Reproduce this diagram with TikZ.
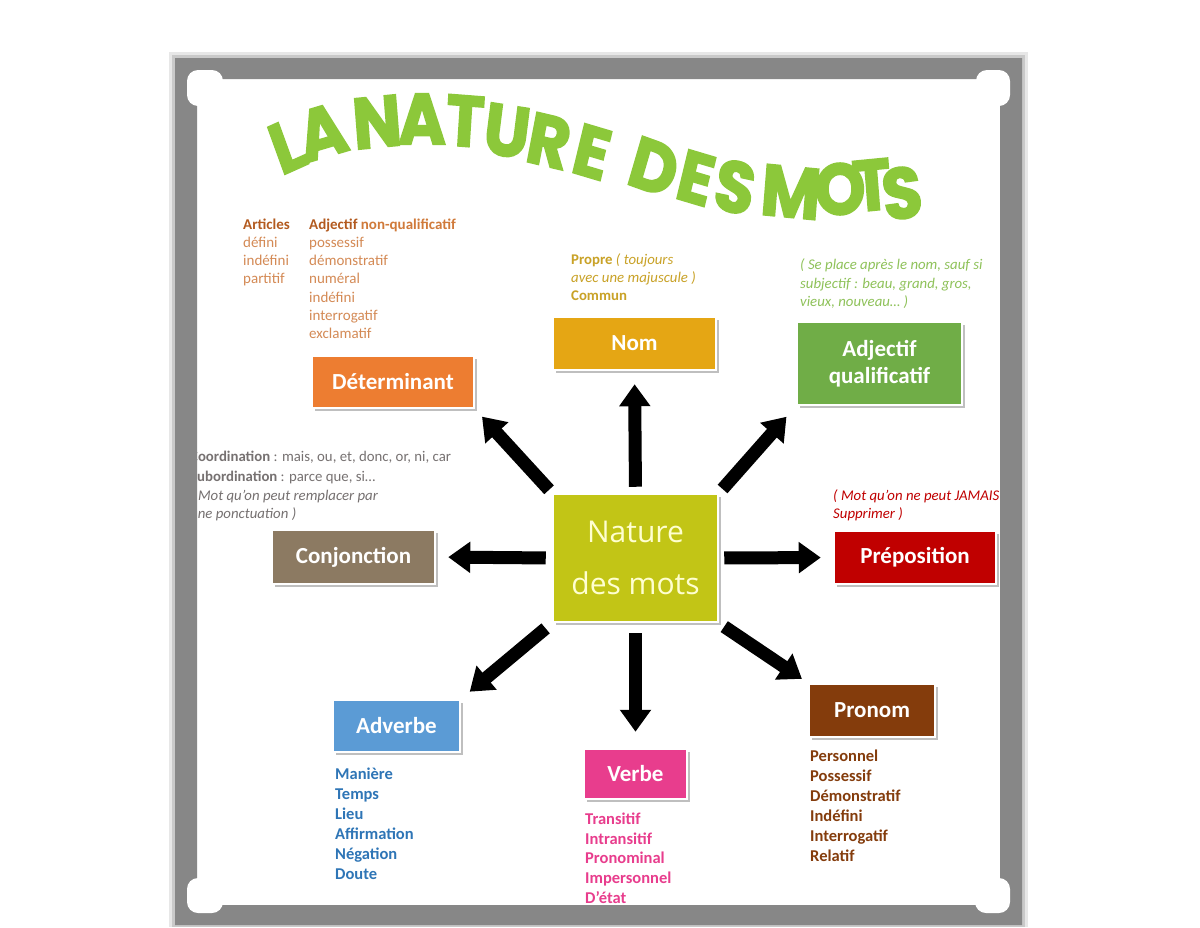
\documentclass[tikz,border=0pt]{standalone}
\usepackage{fontspec}
\setmainfont{Carlito}
\newfontfamily\titlefont{Poppins}[BoldFeatures={FakeBold=2.5}]
\newfontfamily\handfont{Open Sans}
\usetikzlibrary{arrows.meta,shadows}

\definecolor{nomcol}{HTML}{E5A614}
\definecolor{detcol}{HTML}{ED7D31}
\definecolor{adjcol}{HTML}{70AD47}
\definecolor{conjcol}{HTML}{8C7A62}
\definecolor{prepcol}{HTML}{C00000}
\definecolor{centcol}{HTML}{C2C516}
\definecolor{advcol}{HTML}{5B9BD5}
\definecolor{verbcol}{HTML}{E83D8D}
\definecolor{proncol}{HTML}{843C0C}
\definecolor{cream}{HTML}{FFFFD0}
\definecolor{titlegreen}{HTML}{8CC83A}
\definecolor{dethead}{HTML}{B35A1F}
\definecolor{detsub}{HTML}{D07A3A}
\definecolor{detitem}{HTML}{D48A55}
\definecolor{nomtext}{HTML}{C9A227}
\definecolor{adjtext}{HTML}{8FC25A}
\definecolor{conjtext}{HTML}{767171}
\definecolor{advtext}{HTML}{2E75B6}
\definecolor{frame}{HTML}{878787}

\tikzset{
  wordbox/.style={draw=white, line width=2.5pt, text=white, inner sep=0pt, align=center,
    font=\fontsize{23}{27}\selectfont\bfseries,
    drop shadow={shadow xshift=2.5pt, shadow yshift=-2.5pt, fill=black, opacity=0.25}},
  bigarrow/.style={line width=13pt, -{Triangle[width=30pt,length=22pt]}},
  smalltext/.style={anchor=base west, inner sep=0pt, font=\fontsize{14.8}{18}\selectfont},
  dettext/.style={smalltext, font=\fontsize{15}{18}\selectfont},
  listtext/.style={anchor=base west, inner sep=0pt, font=\fontsize{16.5}{20}\selectfont\bfseries},
  letter/.style={font=\titlefont\fontsize{72}{72}\selectfont\bfseries, inner sep=0pt, xscale=0.9}
}

\begin{document}
\begin{tikzpicture}[x=1pt,y=-1pt]
  \useasboundingbox (0,0) rectangle (1200,927);
  % frame background
  \fill[frame!20] (169,52) rectangle (1028,927);
  \fill[frame!45] (172,55) rectangle (1025,927);
  \fill[white] (197,79) rectangle (1000,905);

  % title
  \foreach \ch/\x/\y/\r [count=\i] in {L/287/146/22, A/322/132/15, N/377/122/5, A/422/119/0,
      T/465/121/-4, U/507/131/-8, R/549/141/-12, E/592/152/-15, D/654/167/-18,
      E/696/178/-15, S/735/187/-11, M/791/192/-5, O/840/189/0, T/872/185/5, S/902/193/7}
    \node[letter, text=titlegreen, rotate=\r] (t\i) at (\x,\y) {\ch};

  % boxes
  \node[wordbox, fill=centcol, minimum width=165pt, minimum height=128pt, text=cream,
    font=\handfont\fontsize{30}{52}\selectfont] (nature) at (635.5,558) {Nature\\des mots};
  \node[wordbox, fill=nomcol, minimum width=163pt, minimum height=53pt] (nom) at (634.5,343.5) {Nom};
  \node[wordbox, fill=detcol, minimum width=162pt, minimum height=52pt] (det) at (393,382) {Déterminant};
  \node[wordbox, fill=adjcol, minimum width=165pt, minimum height=83pt] (adj) at (879.5,363.5) {Adjectif\\qualificatif};
  \node[wordbox, fill=conjcol, minimum width=163pt, minimum height=54pt] (conj) at (353.5,557) {Conjonction};
  \node[wordbox, fill=prepcol, minimum width=162pt, minimum height=53pt] (prep) at (915,557.5) {Préposition};
  \node[wordbox, fill=advcol, minimum width=127pt, minimum height=52pt] (adv) at (396.5,726) {Adverbe};
  \node[wordbox, fill=verbcol, minimum width=103pt, minimum height=50pt] (verbe) at (635.5,774) {Verbe};
  \node[wordbox, fill=proncol, minimum width=126pt, minimum height=53pt] (pron) at (872,710.5) {Pronom};

  % arrows
  \draw[bigarrow, shorten <=6pt, shorten >=13pt] (nature.north) -- (nom.south);
  \draw[bigarrow, shorten <=4pt, shorten >=10pt] (nature.north west) -- (det.south east);
  \draw[bigarrow, shorten <=5pt, shorten >=14pt] (nature.north east) -- (adj.south west);
  \draw[bigarrow, shorten <=6pt, shorten >=12pt] (nature.west) -- (conj.east);
  \draw[bigarrow, shorten <=5pt, shorten >=12pt] (nature.east) -- (prep.west);
  \draw[bigarrow, shorten <=8pt, shorten >=11pt] (nature.south west) -- (adv.north east);
  \draw[bigarrow, shorten <=10pt, shorten >=16pt] (nature.south) -- (verbe.north);
  \draw[bigarrow, shorten <=6pt, shorten >=7pt] (nature.south east) -- (pron.north west);

  % determinant
  \node[dettext, text=dethead] (articles) at (243,229) {\bfseries Articles};
  \foreach \w [count=\i] in {défini, indéfini, partitif}
    \node[dettext, text=detitem] (art\i) at (243,229+18.3*\i) {\w};
  \node[dettext, text=dethead] (adjnq) at (309,229) {\bfseries Adjectif \textcolor{detsub}{non-qualificatif}};
  \foreach \w [count=\i] in {possessif, démonstratif, numéral, indéfini, interrogatif, exclamatif}
    \node[dettext, text=detitem] (nq\i) at (309,229+18.3*\i) {\w};

  % nom
  \node[smalltext, text=nomtext] (propre) at (571,264.5) {\textbf{Propre} \textit{( toujours}};
  \node[smalltext, text=nomtext] (majuscule) at (571,282.5) {\itshape avec une majuscule )};
  \node[smalltext, text=nomtext] (commun) at (571,300.5) {\bfseries Commun};

  % adjectif
  \node[smalltext, text=adjtext] (adj1) at (800,269.5) {\itshape ( Se place après le nom, sauf si};
  \node[smalltext, text=adjtext] (adj2) at (800,288.5) {\itshape subjectif : beau, grand, gros,};
  \node[smalltext, text=adjtext] (adj3) at (800,306.5) {\itshape vieux, nouveau… )};

  % conjonction
  \node[smalltext, text=conjtext] (coord) at (190,461) {\textbf{Coordination} : mais, ou, et, donc, or, ni, car};
  \node[smalltext, text=conjtext] (subord) at (190,481) {\textbf{Subordination} : parce que, si…};
  \node[smalltext, text=conjtext] (conj1) at (190,500) {\itshape ( Mot qu’on peut remplacer par};
  \node[smalltext, text=conjtext] (conj2) at (190,518) {\itshape une ponctuation )};

  % preposition
  \node[smalltext, text=prepcol] (prep1) at (833,500) {\itshape ( Mot qu’on ne peut JAMAIS};
  \node[smalltext, text=prepcol] (prep2) at (833,518) {\itshape Supprimer )};

  % lists
  \foreach \w [count=\i] in {Manière, Temps, Lieu, Affirmation, Négation, Doute}
    \node[listtext, text=advtext] (adv\i) at (335,759+20*\i) {\w};
  \foreach \w [count=\i] in {Transitif, Intransitif, Pronominal, Impersonnel, D’état}
    \node[listtext, text=verbcol] (verb\i) at (585,805+19.6*\i) {\w};
  \foreach \w [count=\i] in {Personnel, Possessif, Démonstratif, Indéfini, Interrogatif, Relatif}
    \node[listtext, text=proncol] (pron\i) at (810,741.5+20*\i) {\w};

  % frame over the edges
  \fill[frame, even odd rule] (175,58) rectangle (1022,925) (197,79) rectangle (1000,905);
  \fill[white, rounded corners=11pt] (187,70) rectangle (223,106);
  \fill[white, rounded corners=11pt] (976,70) rectangle (1010,106);
  \fill[white, rounded corners=11pt] (187,878) rectangle (223,913);
  \fill[white, rounded corners=11pt] (975,878) rectangle (1010,913);
\end{tikzpicture}
\end{document}
